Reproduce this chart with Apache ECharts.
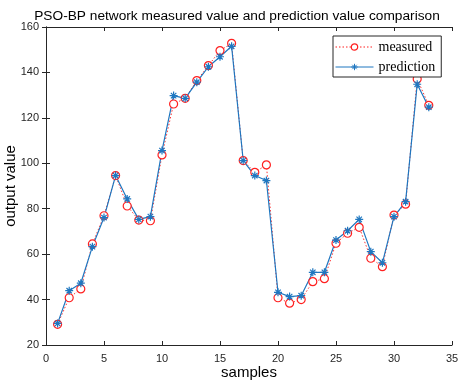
<!DOCTYPE html>
<html><head><meta charset="utf-8">
<script src="https://cdn.jsdelivr.net/npm/echarts@6/dist/echarts.min.js"></script>
<style>html,body{margin:0;padding:0;background:#fff}#c{width:474px;height:389px}</style>
</head><body><div id="c"></div>
<script>
var samples = [1,2,3,4,5,6,7,8,9,10,11,12,13,14,15,16,17,18,19,20,21,22,23,24,25,26,27,28,29,30,31,32,33];
var measured = [29.1,40.8,44.7,64.5,76.9,94.6,81.2,75.0,74.7,103.7,126.1,128.6,136.4,143.0,149.6,152.8,101.2,96.0,99.3,40.8,38.4,40.0,47.9,49.2,64.8,69.2,71.8,58.2,54.5,77.2,82.0,137.1,125.5];
var prediction = [29.5,43.9,47.2,63.3,76.1,94.6,84.3,75.3,76.5,105.6,129.8,128.6,135.7,142.5,146.9,151.5,101.2,94.6,92.4,43.2,41.3,41.7,52.0,52.0,66.2,70.3,75.3,61.1,56.2,76.5,83.1,134.8,124.7];
var xTicks = [0,5,10,15,20,25,30,35];
var yTicks = [20,40,60,80,100,120,140,160];

var asterisk = 'path://M5,0L5,10M0,5L10,5M1.6,1.6L8.4,8.4M1.6,8.4L8.4,1.6';
var axisColor = '#262626';
var redC = '#ff2020', blueC = '#1f77c0';
var chart = echarts.init(document.getElementById('c'), null, {renderer:'canvas'});
var pair = function(ys){ return samples.map(function(x,i){ return [x, ys[i]]; }); };
var baseAxis = {
  axisLine:{show:true, lineStyle:{color:axisColor, width:1}},
  axisTick:{show:true, inside:true, length:4, lineStyle:{color:axisColor}},
  splitLine:{show:false}
};
chart.setOption({
  animation:false,
  title:{text:'PSO-BP network measured value and prediction value comparison', left:'center', top:4,
    textStyle:{fontFamily:'Liberation Sans', fontSize:13.7, fontWeight:'normal', color:'#000'}},
  grid:{left:46, right:22, top:27, bottom:44, outerBoundsMode:'none', containLabel:false},
  legend:{left:333, top:36, orient:'vertical', itemWidth:38, itemHeight:8, itemGap:6,
    padding:[4,6,3,2], borderColor:'#262626', borderWidth:1, backgroundColor:'#fff',
    textStyle:{fontFamily:'Liberation Serif', fontSize:14, color:'#000'},
    data:[
      {name:'measured', lineStyle:{color:redC, width:1, type:[1.5,2]}, itemStyle:{color:'#fff', borderColor:redC, borderWidth:1.2}},
      {name:'prediction', lineStyle:{color:blueC, width:1, type:'solid'}, itemStyle:{color:blueC, borderColor:blueC, borderWidth:1}}
    ]},
  xAxis:[
    Object.assign({}, baseAxis, {type:'value', min:xTicks[0], max:xTicks[xTicks.length-1], interval:5,
      name:'samples', nameLocation:'middle', nameGap:20, nameMoveOverlap:false,
      nameTextStyle:{fontFamily:'Liberation Sans', fontSize:15, color:'#000'},
      axisLabel:{fontFamily:'Liberation Sans', fontSize:11, color:axisColor, margin:8}}),
    Object.assign({}, baseAxis, {type:'value', position:'top', min:0, max:35, interval:5, axisLabel:{show:false}})
  ],
  yAxis:[
    Object.assign({}, baseAxis, {type:'value', min:yTicks[0], max:yTicks[yTicks.length-1], interval:20,
      name:'output value', nameLocation:'middle', nameGap:28, nameMoveOverlap:false,
      nameTextStyle:{fontFamily:'Liberation Sans', fontSize:15, color:'#000'},
      axisLabel:{fontFamily:'Liberation Sans', fontSize:11, color:axisColor, margin:7}}),
    Object.assign({}, baseAxis, {type:'value', position:'right', min:20, max:160, interval:20, axisLabel:{show:false}})
  ],
  series:[
    {name:'measured', type:'line', data:pair(measured), symbol:'circle', symbolSize:8,
      showAllSymbol:true,
      lineStyle:{color:'#ff3333', width:1, type:[1.5,2]},
      itemStyle:{color:'#ffffff', borderColor:redC, borderWidth:1.2}},
    {name:'prediction', type:'line', data:pair(prediction), symbol:asterisk, symbolSize:8,
      showAllSymbol:true,
      lineStyle:{color:blueC, width:1.2},
      itemStyle:{color:blueC, borderColor:blueC, borderWidth:1.2}}
  ]
});
</script></body></html>
